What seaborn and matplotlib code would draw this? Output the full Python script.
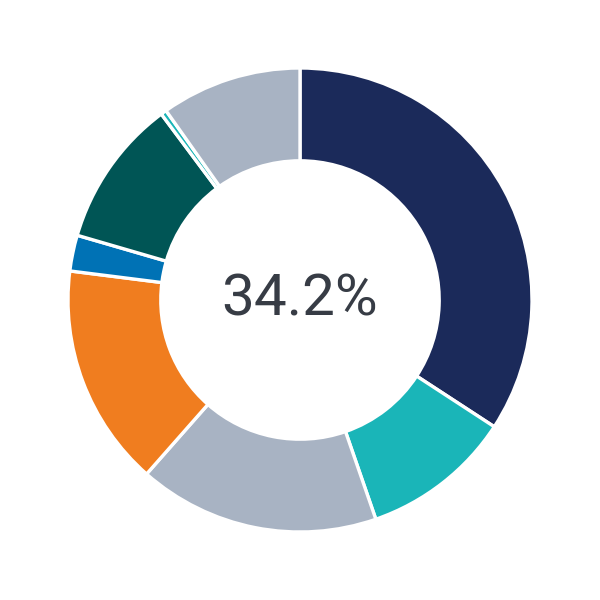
import matplotlib
matplotlib.use("Agg")
import matplotlib.pyplot as plt
import seaborn as sns

# slice shares (%), clockwise from 12 o'clock
segments = ["A", "B", "C", "D", "E", "F", "G", "H"]
shares = [34.2, 10.5, 16.8, 15.5, 2.5, 10.3, 0.4, 9.8]
colors = ["#1b2a5a", "#1ab5b8", "#a8b3c3", "#f07d1f",
          "#0072b5", "#005555", "#1ab5b8", "#a8b3c3"]
center_label = "34.2%"

sns.set_theme(style="white")
plt.rcParams["font.family"] = ["Roboto", "DejaVu Sans"]

fig = plt.figure(figsize=(6, 6), dpi=100)
ax = fig.add_axes([0, 0, 1, 1])

ax.pie(
    shares,
    colors=colors,
    startangle=90,
    counterclock=False,
    radius=1.0,
    wedgeprops=dict(width=0.40, edgecolor="white", linewidth=2.4),
)

ax.text(0, 0, center_label, ha="center", va="center",
        fontsize=42, color="#373c45", fontweight="normal")

lim = 300 / 232
ax.set_xlim(-lim, lim)
ax.set_ylim(-lim, lim)
ax.set_aspect("equal")
ax.axis("off")

fig.savefig("out.png", dpi=100, facecolor="white")
